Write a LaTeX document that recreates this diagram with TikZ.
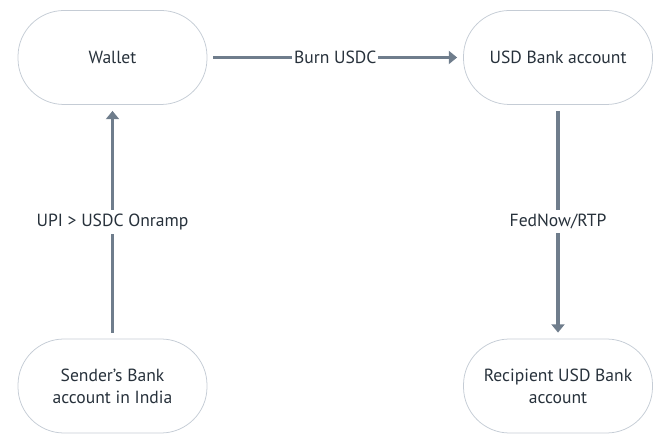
\documentclass[tikz,border=0pt]{standalone}
\usepackage{fontspec}
\setmainfont{PT Sans}
\usetikzlibrary{arrows.meta}
\definecolor{edgegray}{HTML}{C5CCD5}
\definecolor{flowgray}{HTML}{6F7D8C}
\definecolor{inkgray}{HTML}{27313B}
\tikzset{
    stage/.style={draw=edgegray, line width=0.65pt, rounded corners=1.38cm, minimum width=5.67cm, minimum height=2.82cm, align=center, text=inkgray, font=\fontsize{15}{18.8}\selectfont},
    flow/.style={draw=flowgray, line width=0.1cm, -{Triangle[width=0.39cm, length=0.25cm]}, shorten <=0.18cm, shorten >=0.18cm},
    flowlabel/.style={fill=white, text=inkgray, inner xsep=0.05cm, inner ysep=0.12cm, font=\fontsize{15}{18.8}\selectfont}
}
\begin{document}
\begin{tikzpicture}
        \useasboundingbox (0,0) rectangle (20.07,13.26);
        \node[stage] (wallet) at (3.375,11.535) {Wallet};
        \node[stage] (usdbank) at (16.74,11.535) {USD Bank account};
        \node[stage] (sender) at (3.375,1.68) {Sender's Bank\\account in India};
        \node[stage] (recipient) at (16.74,1.68) {Recipient USD Bank\\account};
        \draw[flow] (wallet) -- node[flowlabel] {Burn USDC} (usdbank);
        \draw[flow] (sender) -- node[flowlabel] {UPI > USDC Onramp} (wallet);
        \draw[flow] (usdbank) -- node[flowlabel] {FedNow/RTP} (recipient);
    \end{tikzpicture}
\end{document}
